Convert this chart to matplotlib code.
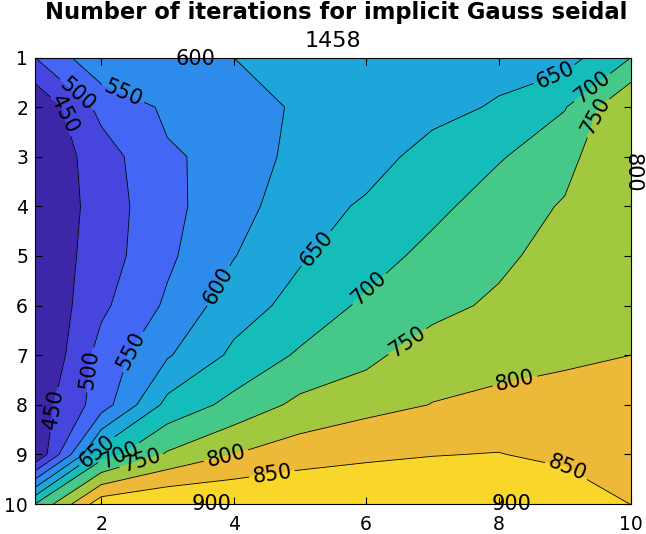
import numpy as np
import matplotlib
matplotlib.use("Agg")
import matplotlib.pyplot as plt

# grid axes
x_vals = np.arange(1, 11)
y_vals = np.arange(1, 11)

# iteration counts, one row per y value (1 at top)
row1 = [500, 590, 597, 600, 612, 620, 628, 636, 630, 700]
row2 = [405, 515, 558, 590, 603, 618, 638, 654, 697, 800]
row3 = [405, 476, 545, 562, 620, 635, 664, 695, 735, 800]
row4 = [404, 471, 538, 577, 634, 655, 685, 728, 754, 800]
row5 = [408, 475, 541, 598, 645, 675, 717, 735, 779, 800]
row6 = [399, 490, 558, 628, 666, 710, 730, 762, 785, 800]
row7 = [391, 519, 595, 660, 707, 735, 782, 790, 796, 800]
row8 = [420, 525, 665, 715, 762, 785, 801, 807, 809, 815]
row9 = [400, 675, 756, 800, 827, 840, 848, 852, 835, 830]
row10 = [700, 880, 900, 900, 900, 900, 900, 900, 895, 849]

levels = [450, 500, 550, 600, 650, 700, 750, 800, 850, 900]

# label positions (x, y with y=1 at top)
label_spots = {
    450: [(1.41, 2.16), (1.3, 8.1)],
    500: [(1.63, 1.76), (1.8, 7.29)],
    550: [(2.33, 1.72), (2.47, 6.93)],
    600: [(3.8, 5.62)],
    650: [(8.9, 1.55), (5.27, 4.88), (1.97, 8.97)],
    700: [(9.41, 1.6), (6.06, 5.68), (2.27, 8.97)],
    750: [(9.5, 2.2), (6.63, 6.74), (2.6, 9.1)],
    800: [(8.25, 7.53), (3.89, 9.06)],
    850: [(9.05, 9.24), (4.58, 9.4)],
}
edge_labels = [("600", 3.42, 1.03, 0), ("800", 10.02, 3.33, 270),
               ("900", 3.66, 9.99, 0), ("900", 8.19, 9.99, 0)]

Z = np.array([row1, row2, row3, row4, row5, row6, row7, row8, row9, row10], dtype=float)
# y is drawn negated so that 1 sits on top and labels rotate the right way
X, Y = np.meshgrid(x_vals, -y_vals)

fill_colors = ["#3e26a8", "#4646de", "#4366f5", "#2d8ceb", "#1ea5da",
               "#14bcba", "#46c889", "#a2c840", "#ecb938", "#f9d62a", "#f9fb0e"]

fig = plt.figure(figsize=(6.46, 5.34), dpi=100)
ax = fig.add_axes([35 / 646, 30 / 534, 596 / 646, 446.5 / 534])

bounds = [0] + levels + [5000]
ax.contourf(X, Y, Z, levels=bounds, colors=fill_colors)

# one contour set per level so each label lands on its own line
for lev in levels:
    cs = ax.contour(X, Y, Z, levels=[lev], colors="black", linewidths=0.6)
    spots = label_spots.get(lev)
    if spots and len(cs.allsegs[0]) > 0:
        ax.clabel(cs, manual=[(px, -py) for px, py in spots], inline=True,
                  fmt="%d", fontsize=15, inline_spacing=3)

for txt, lx, ly, rot in edge_labels:
    ax.text(lx, -ly, txt, fontsize=15, rotation=rot, ha="center", va="center",
            clip_on=False, zorder=5)

ax.set_xlim(1, 10)
ax.set_ylim(-10, -1)
ax.set_xticks([2, 4, 6, 8, 10])
ax.set_yticks(-y_vals)
ax.set_yticklabels([str(v) for v in y_vals])
ax.tick_params(direction="in", length=5, width=0.8, labelsize=13.5,
               top=True, right=True)
ax.tick_params(axis="x", pad=8)
ax.tick_params(axis="y", pad=5)
for s in ax.spines.values():
    s.set_linewidth(0.8)

fig.text(0.52, 0.977, "Number of iterations for implicit Gauss seidal",
         fontsize=16.3, fontweight="bold", ha="center", va="center")
fig.text(0.515, 0.923, "1458", fontsize=16, ha="center", va="center")

fig.savefig("out.png", dpi=100)
